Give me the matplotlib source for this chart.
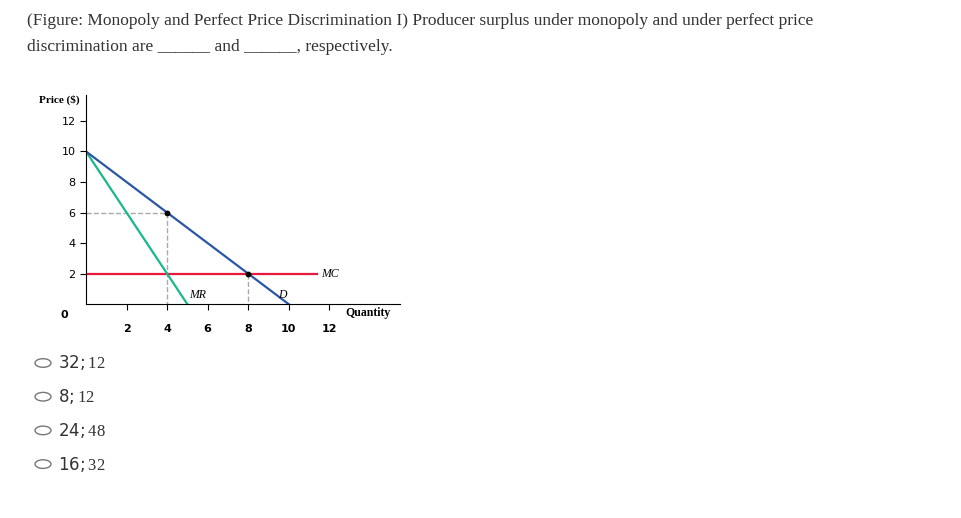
import matplotlib.pyplot as plt
from matplotlib.patches import Circle

demand_q = [0, 10]
demand_p = [10, 0]
mr_q = [0, 5]
mr_p = [10, 0]
mc_q = [0, 11.4]
mc_p = [2, 2]
dots_q = [4, 8]
dots_p = [6, 2]
x_ticks = [2, 4, 6, 8, 10, 12]
y_ticks = [2, 4, 6, 8, 10, 12]
choices = ["$32; $12", "$8; $12", "$24; $48", "$16; $32"]

fig = plt.figure(figsize=(9.62, 5.18), dpi=100)
serif = "Liberation Serif"

fig.text(0.028, 0.975, "(Figure: Monopoly and Perfect Price Discrimination I) Producer surplus under monopoly and under perfect price",
         family=serif, fontsize=12.5, va="top", color="#333333")
fig.text(0.028, 0.925, "discrimination are ______ and ______, respectively.",
         family=serif, fontsize=12.5, va="top", color="#333333")

ax = fig.add_axes([0.0894, 0.413, 0.3264, 0.4036])
ax.set_xlim(0, 15.5)
ax.set_ylim(0, 13.7)
for s in ["top", "right"]:
    ax.spines[s].set_visible(False)
ax.plot([0, 4, 4], [6, 6, 0], ls="--", color="#aaaaaa", lw=1)
ax.plot([8, 8], [2, 0], ls="--", color="#aaaaaa", lw=1)
ax.plot(mc_q, mc_p, color="#e8173c", lw=1.6)
ax.plot(mr_q, mr_p, color="#19b88a", lw=1.6)
ax.plot(demand_q, demand_p, color="#2a56a8", lw=1.6)
ax.scatter(dots_q, dots_p, color="black", s=10, zorder=5)
ax.set_xticks(x_ticks)
ax.set_yticks(y_ticks)
ax.tick_params(labelsize=8, length=4)
ax.tick_params(axis="x", pad=10)
for t in ax.get_xticklabels():
    t.set_fontweight("bold")
ax.text(-0.9, -0.4, "0", ha="right", va="top", fontsize=8, fontweight="bold", clip_on=False)
ax.text(-0.3, 13.4, "Price ($)", ha="right", va="center", fontsize=8, fontweight="bold", family=serif, clip_on=False)
ax.text(12.8, -0.6, "Quantity", ha="left", va="center", fontsize=8.5, fontweight="bold", family=serif, clip_on=False)
ax.text(11.6, 2, "MC", style="italic", fontsize=8.5, family=serif, va="center")
ax.text(5.1, 0.6, "MR", style="italic", fontsize=8.5, family=serif, va="center")
ax.text(9.9, 0.6, "D", style="italic", fontsize=8.5, family=serif, va="center", ha="right")

for i, c in enumerate(choices):
    y = 1 - (363 + 33.7 * i) / 518
    fig.patches.append(Circle((43 / 962, y), 8 / 962, transform=fig.transFigure,
                              fill=False, edgecolor="#777777", lw=1, figure=fig))
    fig.text(58 / 962, y, c, family=serif, fontsize=12, va="center", color="#333333")

fig.savefig("out.png")
